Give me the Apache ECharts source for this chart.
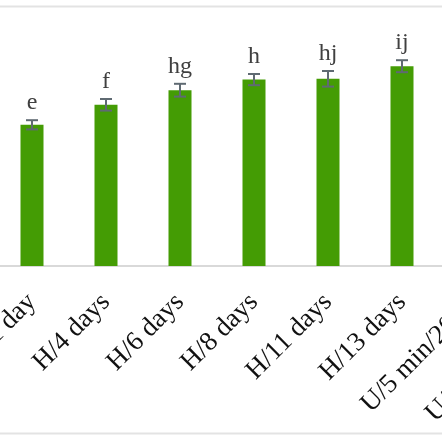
<!DOCTYPE html>
<html><head><meta charset="utf-8">
<script src="https://cdn.jsdelivr.net/npm/echarts@6/dist/echarts.min.js"></script>
<style>html,body{margin:0;padding:0;width:442px;height:442px;overflow:hidden;background:#fff;}
#c{position:absolute;left:-5px;top:0;width:600px;height:442px;}</style>
</head><body><div id="c"></div>
<script>
var categories = ['H/1 day','H/4 days','H/6 days','H/8 days','H/11 days','H/13 days','U/5 min/20 W','U/10 min/20 W'];
var values = [70.6, 80.6, 87.9, 93.2, 93.6, 99.9, null, null];
var errors = [2.3, 2.9, 3.2, 2.8, 3.9, 3.0, null, null];
var letters = ['e','f','hg','h','hj','ij','',''];

var chart = echarts.init(document.getElementById('c'), null, {renderer:'canvas'});
var errData = categories.map(function(c,i){return [i, values[i], errors[i], letters[i]];}).filter(function(d){return d[1]!=null;});
chart.setOption({
  animation:false,
  grid:{left:0, width:592, top:6, height:260, containLabel:false, outerBoundsMode:'none'},
  graphic:[
    {type:'line', shape:{x1:0,y1:6.5,x2:600,y2:6.5}, style:{stroke:'#e3e3e3',lineWidth:2}, z:-1},
    {type:'line', shape:{x1:0,y1:433.5,x2:600,y2:433.5}, style:{stroke:'#e3e3e3',lineWidth:2}, z:-1}
  ],
  xAxis:{type:'category', data:categories,
    axisLine:{lineStyle:{color:'#d9d9d9',width:2}}, axisTick:{show:false},
    axisLabel:{rotate:45, interval:0, margin:32, hideOverlap:false, fontFamily:'Liberation Serif', fontSize:27, color:'#111'}},
  yAxis:{type:'value', min:0, max:130, show:false, splitLine:{show:false}},
  series:[
    {type:'bar', data:values, barWidth:23, itemStyle:{color:'#449c04'}},
    {type:'custom', data:errData, z:5,
      renderItem:function(params, api){
        var x = api.value(0), v = api.value(1), e = api.value(2);
        var top = api.coord([x, v+e]), bot = api.coord([x, v-e]);
        var cx = top[0], hw = 6;
        var st = {stroke:'#5f6a72', lineWidth:2};
        return {type:'group', children:[
          {type:'line', shape:{x1:cx,y1:top[1],x2:cx,y2:bot[1]}, style:st},
          {type:'line', shape:{x1:cx-hw,y1:top[1],x2:cx+hw,y2:top[1]}, style:st},
          {type:'line', shape:{x1:cx-hw,y1:bot[1],x2:cx+hw,y2:bot[1]}, style:st},
          {type:'text', x:cx, y:top[1]-5, style:{text:letters[x], fill:'#404040', font:'24px "Liberation Serif"', textAlign:'center', textVerticalAlign:'bottom'}}
        ]};
      }}
  ]
});
</script></body></html>
